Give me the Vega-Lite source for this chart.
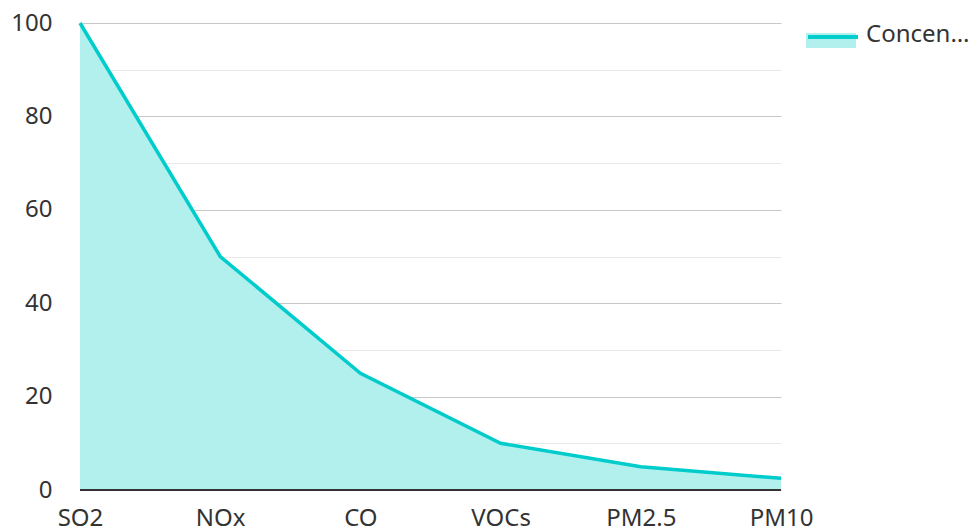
{
  "$schema": "https://vega.github.io/schema/vega-lite/v6.json",
  "width": 701,
  "height": 467,
  "autosize": {"type": "none"},
  "padding": {"left": 80, "top": 23, "right": 192, "bottom": 41},
  "background": "#ffffff",
  "config": {
    "font": "Noto Sans",
    "view": {"stroke": null},
    "axis": {"labelFontSize": 24, "labelColor": "#333333", "ticks": false, "domain": false, "title": null}
  },
  "data": {
    "values": [
      {"pollutant": "SO2", "value": 100, "series": "Concentration"},
      {"pollutant": "NOx", "value": 50, "series": "Concentration"},
      {"pollutant": "CO", "value": 25, "series": "Concentration"},
      {"pollutant": "VOCs", "value": 10, "series": "Concentration"},
      {"pollutant": "PM2.5", "value": 5, "series": "Concentration"},
      {"pollutant": "PM10", "value": 2.5, "series": "Concentration"}
    ]
  },
  "layer": [
    {
      "mark": {"type": "area", "opacity": 1},
      "encoding": {
        "x": {
          "field": "pollutant", "type": "ordinal", "sort": null,
          "scale": {"type": "point", "padding": 0},
          "axis": {
            "title": null, "labelAngle": 0, "labelFontSize": 24, "labelColor": "#333333",
            "ticks": false, "domain": false, "grid": false, "labelPadding": 16
          }
        },
        "y": {
          "field": "value", "type": "quantitative",
          "scale": {"domain": [0, 100], "nice": false},
          "axis": {
            "title": null, "values": [0, 10, 20, 30, 40, 50, 60, 70, 80, 90, 100],
            "labelExpr": "datum.value % 20 === 0 ? datum.label : ''",
            "labelFontSize": 24, "labelColor": "#333333", "ticks": false, "domain": false,
            "labelPadding": 28,
            "gridColor": {"condition": {"test": "datum.value % 20 === 0", "value": "#c8c8c8"}, "value": "#e8e8e8"},
            "gridWidth": 1
          }
        },
        "fill": {
          "field": "series", "type": "nominal",
          "scale": {"range": ["#b2f0ee"]},
          "legend": {
            "title": null, "orient": "none", "legendX": 726, "legendY": -13,
            "symbolType": "M-1,-0.08L1,-0.08L1,0.52L-1,0.52Z", "symbolSize": 2500,
            "symbolStrokeWidth": 0, "labelFontSize": 24, "labelColor": "#333333",
            "labelLimit": 108, "labelOffset": 10, "padding": 0
          }
        }
      }
    },
    {
      "mark": {"type": "line", "strokeWidth": 3.5},
      "encoding": {
        "x": {"field": "pollutant", "type": "ordinal", "sort": null},
        "y": {"field": "value", "type": "quantitative"},
        "stroke": {
          "field": "series", "type": "nominal",
          "scale": {"range": ["#00cccc"]},
          "legend": {
            "title": null, "orient": "none", "legendX": 726, "legendY": -13,
            "symbolType": "M-1,0L1,0", "symbolSize": 2500, "symbolStrokeWidth": 4,
            "labelExpr": "''", "labelFontSize": 24, "labelLimit": 108, "labelOffset": 10, "padding": 0
          }
        }
      }
    },
    {
      "mark": {"type": "rule", "color": "#333333", "strokeWidth": 2},
      "encoding": {"y": {"datum": 0}}
    }
  ],
  "resolve": {"legend": {"fill": "independent", "stroke": "independent"}}
}
